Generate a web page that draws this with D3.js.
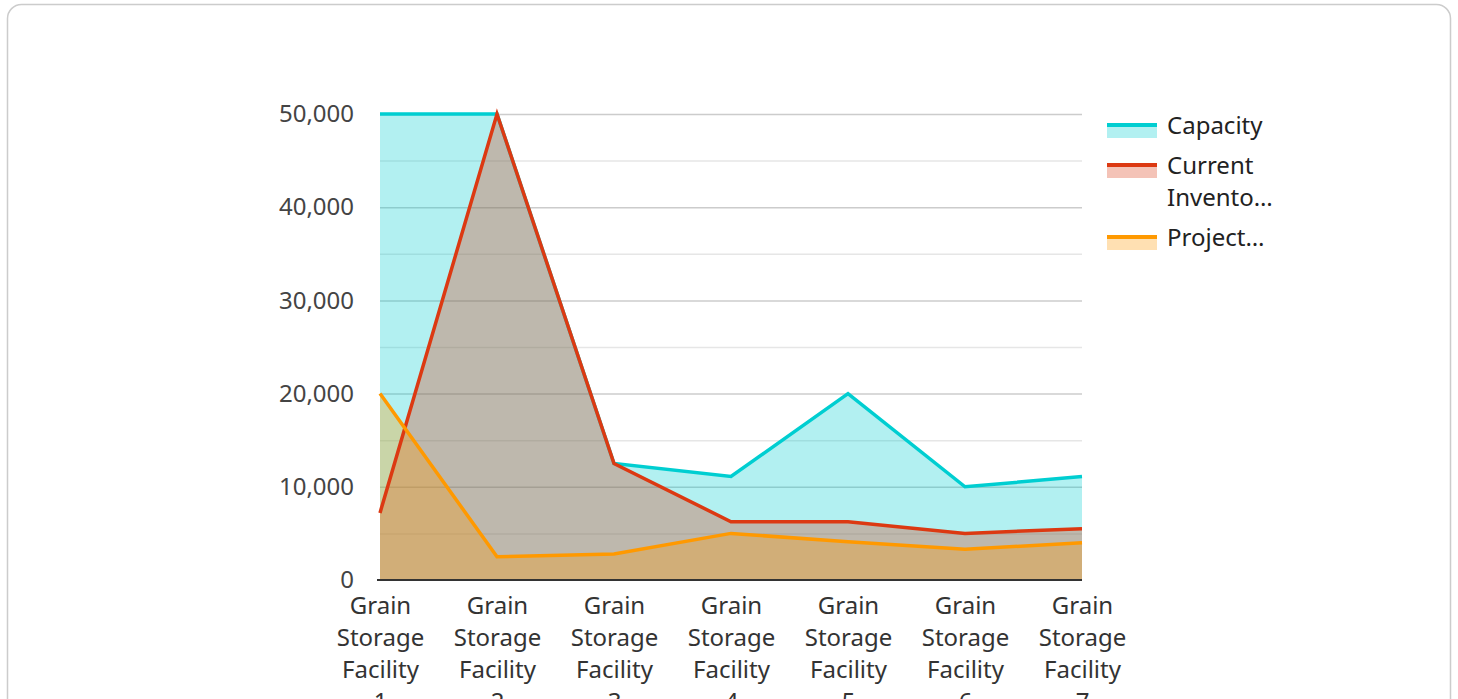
<!DOCTYPE html>
<html>
<head>
<meta charset="utf-8">
<script src="https://cdn.jsdelivr.net/npm/d3@7"></script>
<style>
  html, body { margin: 0; padding: 0; background: #fff; overflow: hidden; }
  svg { display: block; font-family: "Noto Sans", "Open Sans", sans-serif; }
</style>
</head>
<body>
<svg id="chart" width="1458" height="699"></svg>
<script>
// ---- data ----
const categories = [
  "Grain Storage Facility 1", "Grain Storage Facility 2", "Grain Storage Facility 3",
  "Grain Storage Facility 4", "Grain Storage Facility 5", "Grain Storage Facility 6",
  "Grain Storage Facility 7"
];
const capacity = [50000, 50000, 12500, 11100, 20000, 10000, 11100];
const currentInventory = [7200, 50000, 12500, 6250, 6250, 5000, 5500];
const projectedDemand = [20000, 2500, 2800, 5000, 4100, 3300, 4000];
const seriesNames = ["Capacity", "Current Inventory", "Projected Demand"];
const legendLabels = [["Capacity"], ["Current", "Invento…"], ["Project…"]];
const seriesColors = ["#00CED1", "#DC3912", "#FF9900"];
const yTicks = [0, 10000, 20000, 30000, 40000, 50000];
const yMinorTicks = [5000, 15000, 25000, 35000, 45000];

// ---- layout ----
const svg = d3.select("#chart");
const plotLeft = 380, plotRight = 1082, plotTop = 114, plotBottom = 580;

svg.append("rect")
  .attr("x", 7.5).attr("y", 4.5).attr("width", 1443).attr("height", 740)
  .attr("rx", 14).attr("fill", "#fff").attr("stroke", "#ccc").attr("stroke-width", 1.5);

const x = d3.scalePoint().domain(categories).range([plotLeft, plotRight]);
const y = d3.scaleLinear().domain([0, 50000]).range([plotBottom, plotTop]);

// minor gridlines
svg.append("g").attr("transform", `translate(${plotLeft},0)`)
  .call(d3.axisLeft(y).tickValues(yMinorTicks).tickSize(-(plotRight - plotLeft)).tickFormat(""))
  .call(g => g.select(".domain").remove())
  .call(g => g.selectAll(".tick line").attr("stroke", "#e6e6e6").attr("stroke-width", 1.5));

// major gridlines
svg.append("g").attr("transform", `translate(${plotLeft},0)`)
  .call(d3.axisLeft(y).tickValues(yTicks.filter(d => d > 0)).tickSize(-(plotRight - plotLeft)).tickFormat(""))
  .call(g => g.select(".domain").remove())
  .call(g => g.selectAll(".tick line").attr("stroke", "#cccccc").attr("stroke-width", 1.5));

// series
const seriesData = [capacity, currentInventory, projectedDemand];
const area = d3.area()
  .x((d, i) => x(categories[i]))
  .y0(y(0))
  .y1(d => y(d));
const line = d3.line()
  .x((d, i) => x(categories[i]))
  .y(d => y(d));

seriesData.forEach((vals, s) => {
  svg.append("path").datum(vals)
    .attr("d", area)
    .attr("fill", seriesColors[s])
    .attr("fill-opacity", 0.3);
});
seriesData.forEach((vals, s) => {
  svg.append("path").datum(vals)
    .attr("d", line)
    .attr("fill", "none")
    .attr("stroke", seriesColors[s])
    .attr("stroke-width", 3.5)
    .attr("stroke-linejoin", "miter");
});

// baseline
svg.append("line")
  .attr("x1", plotLeft - 3).attr("x2", plotRight)
  .attr("y1", y(0)).attr("y2", y(0))
  .attr("stroke", "#333").attr("stroke-width", 2);

// y axis labels
svg.append("g").attr("transform", `translate(${plotLeft},0)`)
  .call(d3.axisLeft(y).tickValues(yTicks).tickSize(0).tickPadding(26).tickFormat(d3.format(",")))
  .call(g => g.select(".domain").remove())
  .call(g => g.selectAll(".tick text")
    .attr("font-size", 24).attr("fill", "#444")
    .attr("font-family", "'Noto Sans', sans-serif"));

// x axis labels (wrapped)
const xAxis = svg.append("g").attr("transform", `translate(0,${plotBottom})`)
  .call(d3.axisBottom(x).tickSize(0).tickPadding(0));
xAxis.select(".domain").remove();
xAxis.selectAll(".tick text").each(function(d) {
  const t = d3.select(this);
  t.text(null).attr("y", 0).attr("dy", null)
    .attr("font-size", 24).attr("fill", "#333")
    .attr("font-family", "'Noto Sans', sans-serif");
  d.split(" ").forEach((w, i) => {
    t.append("tspan").attr("x", 0).attr("y", 34 + i * 32).text(w);
  });
});

// legend
const legendTops = [123, 163, 235];
const lg = svg.append("g");
legendLabels.forEach((lines, i) => {
  const ty = legendTops[i];
  lg.append("rect").attr("x", 1107).attr("y", ty).attr("width", 50).attr("height", 15)
    .attr("fill", seriesColors[i]).attr("fill-opacity", 0.3);
  lg.append("rect").attr("x", 1107).attr("y", ty).attr("width", 50).attr("height", 4)
    .attr("fill", seriesColors[i]);
  const tx = lg.append("text").attr("font-size", 24).attr("fill", "#222");
  lines.forEach((ln, j) => {
    tx.append("tspan").attr("x", 1167).attr("y", ty + 3 + j * 32).attr("dy", "0.35em").text(ln);
  });
});
</script>
</body>
</html>
